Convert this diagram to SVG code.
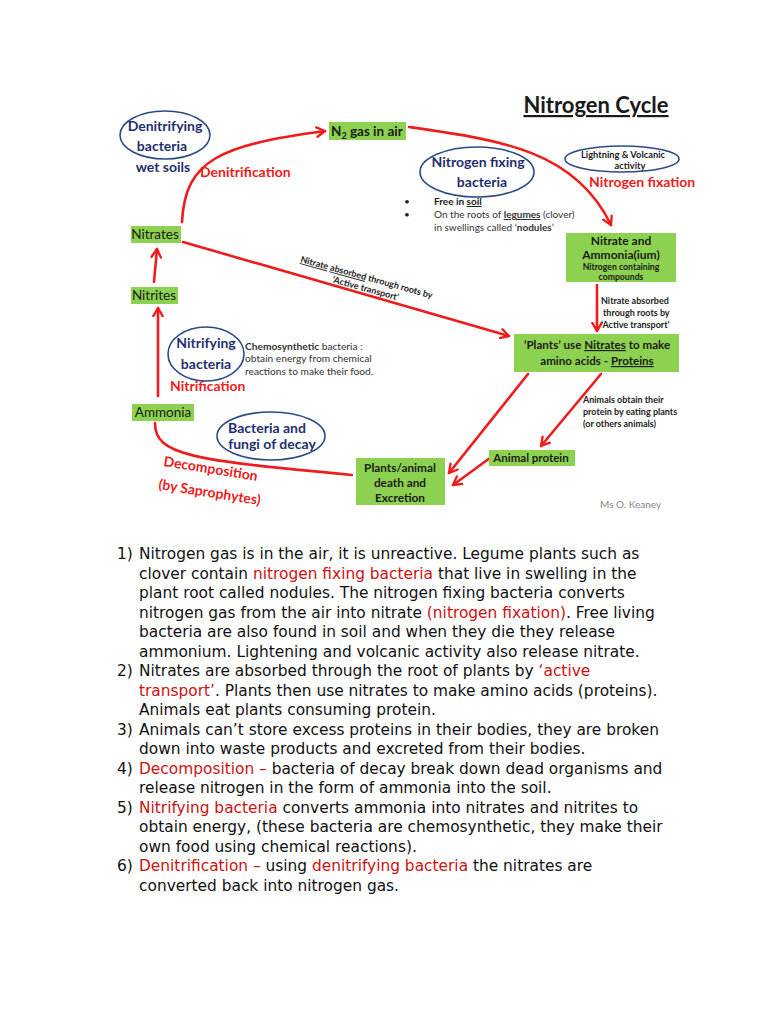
<svg xmlns="http://www.w3.org/2000/svg" width="768" height="1024" viewBox="0 0 768 1024">
<defs>
<marker id="ah" viewBox="0 0 10 10" refX="8" refY="5" markerWidth="4.5" markerHeight="4.5" orient="auto" markerUnits="strokeWidth">
<path d="M1,1 L8,5 L1,9" fill="none" stroke="#ee1c1c" stroke-width="2" stroke-linecap="round" stroke-linejoin="round"/>
</marker>
<style>
.d{font-family:Lato,"Open Sans","Liberation Sans",sans-serif;}
.box{fill:#8dd150;}
.bt{font-family:Lato,"Open Sans","Liberation Sans",sans-serif;fill:#1b1b1b;text-anchor:middle;}
.ell{fill:none;stroke:#2c4a8a;stroke-width:1.6;}
.et{font-family:Lato,"Open Sans","Liberation Sans",sans-serif;fill:#1f2f6e;font-weight:bold;text-anchor:middle;font-size:14px;}
.red{font-family:Lato,"Open Sans","Liberation Sans",sans-serif;fill:#ee1c1c;font-weight:bold;font-size:14px;}
.sm{font-family:Lato,"Open Sans","Liberation Sans",sans-serif;fill:#222;font-size:9px;font-weight:bold;}
.ln{fill:none;stroke:#ee1c1c;stroke-width:2.6;stroke-linecap:round;}
.body{font-family:"DejaVu Sans",sans-serif;font-size:15.4px;fill:#111;}
.r{fill:#cc1111;}
</style>
</defs>
<rect width="768" height="1024" fill="#fff"/>

<text id="title" class="d" x="596" y="113" text-anchor="middle" font-size="22" font-weight="bold" fill="#1a1a1a" text-decoration="underline">Nitrogen Cycle</text>

<g id="connectors">
<path class="ln" d="M182,222 C185,160 220,145 325,131" marker-end="url(#ah)"/>
<path class="ln" d="M409,127 C500,140 575,150 611,225" marker-end="url(#ah)"/>
<path class="ln" d="M183,242 L509,336" marker-end="url(#ah)"/>
<path class="ln" d="M154,282 L157,249" marker-end="url(#ah)"/>
<path class="ln" d="M158,396 L158,308" marker-end="url(#ah)"/>
<path class="ln" d="M155,423 C155,455 190,460 352,475"/>
<path class="ln" d="M597,285 L597,331" marker-end="url(#ah)"/>
<path class="ln" d="M528,374 L449,473" marker-end="url(#ah)"/>
<path class="ln" d="M601,374 L541,446" marker-end="url(#ah)"/>
<path class="ln" d="M490,458 L453,485" marker-end="url(#ah)"/>
</g>

<g id="denitrifying-bacteria">
<ellipse class="ell" cx="165" cy="135" rx="45" ry="24"/>
<text class="et" x="165" y="131">Denitrifying</text>
<text class="et" x="162" y="151">bacteria</text>
<text class="et" x="163" y="172">wet soils</text>
</g>
<text id="lbl-denitrification" class="red" x="200" y="177">Denitrification</text>

<g id="n2">
<rect class="box" x="329" y="122" width="77" height="18"/>
<text x="331" y="136" style="font-family:Lato,'Open Sans','Liberation Sans',sans-serif;font-size:13.5px;font-weight:bold;fill:#1b1b1b">N<tspan font-size="9" dy="3">2</tspan><tspan dy="-3"> gas in air</tspan></text>
</g>

<g id="nitrogen-fixing-bacteria">
<ellipse class="ell" cx="477" cy="172" rx="57" ry="25"/>
<text class="et" x="478" y="167">Nitrogen fixing</text>
<text class="et" x="482" y="187">bacteria</text>
<text class="d" x="404" y="205" font-size="10" fill="#222">•</text>
<text class="d" x="404" y="218" font-size="10" fill="#222">•</text>
<text class="d" x="434" y="205" font-size="10" font-weight="bold" fill="#222">Free in <tspan text-decoration="underline">soil</tspan></text>
<text class="d" x="434" y="218" font-size="10" fill="#333">On the roots of <tspan font-weight="bold" text-decoration="underline">legumes</tspan> (clover)</text>
<text class="d" x="434" y="231" font-size="10" fill="#333">in swellings called ‘<tspan font-weight="bold">nodules</tspan>’</text>
</g>

<g id="lightning">
<ellipse class="ell" cx="622" cy="159" rx="57" ry="13" stroke-width="1.2"/>
<text class="bt" x="623" y="158" font-size="9.3" font-weight="bold">Lightning &amp; Volcanic</text>
<text class="bt" x="630" y="169" font-size="9.3" font-weight="bold">activity</text>
</g>
<text id="lbl-fixation" class="red" x="589" y="187" font-size="13.7">Nitrogen fixation</text>

<g id="nitrate-ammonia">
<rect class="box" x="566" y="233" width="110" height="49"/>
<text class="bt" x="621" y="245" font-size="12" font-weight="bold">Nitrate and</text>
<text class="bt" x="621" y="259" font-size="12" font-weight="bold">Ammonia(ium)</text>
<text class="bt" x="621" y="270" font-size="8.7" font-weight="bold">Nitrogen containing</text>
<text class="bt" x="621" y="280" font-size="8.7" font-weight="bold">compounds</text>
</g>

<g id="nitrates">
<rect class="box" x="131" y="226" width="50" height="17"/>
<text class="bt" x="155" y="239" font-size="13.5">Nitrates</text>
</g>

<g id="nitrites">
<rect class="box" x="131" y="287" width="47" height="17"/>
<text class="bt" x="154" y="300" font-size="13.5">Nitrites</text>
</g>

<g id="ammonia">
<rect class="box" x="132" y="404" width="62" height="17"/>
<text class="bt" x="163" y="417" font-size="13.5">Ammonia</text>
</g>

<g id="lbl-active-transport-1" transform="translate(300,262) rotate(15.5)">
<text class="sm" font-size="9"><tspan text-decoration="underline">Nitrate</tspan> <tspan text-decoration="underline">absorbed</tspan> through roots by</text>
<text class="sm" x="36" y="11">‘Active transport’</text>
</g>

<g id="nitrifying-bacteria">
<ellipse class="ell" cx="206" cy="354" rx="38" ry="27"/>
<text class="et" x="206" y="348">Nitrifying</text>
<text class="et" x="206" y="369">bacteria</text>
<text class="d" x="245" y="350" font-size="10.2" fill="#333"><tspan font-weight="bold">Chemosynthetic</tspan> bacteria :</text>
<text class="d" x="245" y="362" font-size="10.2" fill="#333">obtain energy from chemical</text>
<text class="d" x="245" y="375" font-size="10.2" fill="#333">reactions to make their food.</text>
</g>
<text id="lbl-nitrification" class="red" x="170" y="391">Nitrification</text>

<g id="decay">
<ellipse class="ell" cx="271" cy="436" rx="54" ry="24"/>
<text class="et" x="267" y="433">Bacteria and</text>
<text class="et" x="272" y="449">fungi of decay</text>
</g>
<g id="lbl-decomposition">
<text class="red" transform="translate(163,466) rotate(9)">Decomposition</text>
<text class="red" transform="translate(158,489) rotate(9)">(by Saprophytes)</text>
</g>

<g id="plants">
<rect class="box" x="514" y="334" width="165" height="38"/>
<text class="bt" x="597" y="349" font-size="11.6" font-weight="bold">‘Plants’ use <tspan text-decoration="underline">Nitrates</tspan> to make</text>
<text class="bt" x="597" y="365" font-size="11.6" font-weight="bold">amino acids - <tspan text-decoration="underline">Proteins</tspan></text>
</g>

<g id="lbl-active-transport-2">
<text class="sm" x="601" y="304">Nitrate absorbed</text>
<text class="sm" x="603" y="316">through roots by</text>
<text class="sm" x="601" y="328">‘Active transport’</text>
</g>

<g id="lbl-animals-obtain">
<text class="sm" x="583" y="403" font-size="9.2">Animals obtain their</text>
<text class="sm" x="583" y="415" font-size="9.2">protein by eating plants</text>
<text class="sm" x="583" y="427" font-size="9.2">(or others animals)</text>
</g>

<g id="animal-protein">
<rect class="box" x="489" y="450" width="86" height="16"/>
<text class="bt" x="531" y="462" font-size="11.5" font-weight="bold">Animal protein</text>
</g>

<g id="death">
<rect class="box" x="356" y="458" width="89" height="47"/>
<text class="bt" x="400" y="472" font-size="11.8" font-weight="bold">Plants/animal</text>
<text class="bt" x="400" y="487" font-size="11.8" font-weight="bold">death and</text>
<text class="bt" x="400" y="502" font-size="11.8" font-weight="bold">Excretion</text>
</g>

<text id="credit" class="d" x="600" y="508" font-size="10" fill="#888">Ms O. Keaney</text>

<g id="notes" class="body">
<text x="117" y="559">1)</text>
<text x="139" y="559">Nitrogen gas is in the air, it is unreactive. Legume plants such as</text>
<text x="139" y="579">clover contain <tspan class="r">nitrogen fixing bacteria</tspan> that live in swelling in the</text>
<text x="139" y="598">plant root called nodules. The nitrogen fixing bacteria converts</text>
<text x="139" y="618">nitrogen gas from the air into nitrate <tspan class="r">(nitrogen fixation)</tspan>. Free living</text>
<text x="139" y="637">bacteria are also found in soil and when they die they release</text>
<text x="139" y="657">ammonium. Lightening and volcanic activity also release nitrate.</text>
<text x="117" y="676">2)</text>
<text x="139" y="676">Nitrates are absorbed through the root of plants by <tspan class="r">‘active</tspan></text>
<text x="139" y="696"><tspan class="r">transport’</tspan>. Plants then use nitrates to make amino acids (proteins).</text>
<text x="139" y="715">Animals eat plants consuming protein.</text>
<text x="117" y="735">3)</text>
<text x="139" y="735">Animals can’t store excess proteins in their bodies, they are broken</text>
<text x="139" y="754">down into waste products and excreted from their bodies.</text>
<text x="117" y="774">4)</text>
<text x="139" y="774"><tspan class="r">Decomposition –</tspan> bacteria of decay break down dead organisms and</text>
<text x="139" y="793">release nitrogen in the form of ammonia into the soil.</text>
<text x="117" y="813">5)</text>
<text x="139" y="813"><tspan class="r">Nitrifying bacteria</tspan> converts ammonia into nitrates and nitrites to</text>
<text x="139" y="832">obtain energy, (these bacteria are chemosynthetic, they make their</text>
<text x="139" y="852">own food using chemical reactions).</text>
<text x="117" y="871">6)</text>
<text x="139" y="871"><tspan class="r">Denitrification –</tspan> using <tspan class="r">denitrifying bacteria</tspan> the nitrates are</text>
<text x="139" y="891">converted back into nitrogen gas.</text>
</g>
</svg>
